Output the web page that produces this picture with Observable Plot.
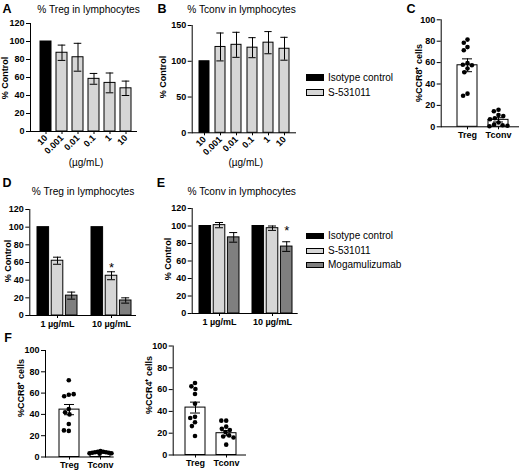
<!DOCTYPE html>
<html>
<head>
<meta charset="utf-8">
<script src="https://cdn.jsdelivr.net/npm/d3@7"></script>
<script src="https://cdn.jsdelivr.net/npm/@observablehq/plot@0.6"></script>
<style>
  body { margin: 0; background: #fff; }
  #fig { position: relative; width: 520px; height: 472px; overflow: hidden; background: #fff; }
  #fig svg { position: absolute; }
</style>
</head>
<body>
<div id="fig"></div>
<script>
// ---- Panels A and B: dose response, % of isotype control (mean ± SEM) ----
const doseLabels = ["10", "0.001", "0.01", "0.1", "1", "10"];
const doseTreatment = ["Isotype control", "S-531011", "S-531011", "S-531011", "S-531011", "S-531011"];
const tregDoseMean = [100, 87.5, 82.5, 58.5, 54, 48];
const tregDoseErr = [0, 8.5, 15.5, 6, 11, 8];
const tconvDoseMean = [100, 120, 123, 119, 126, 117.5];
const tconvDoseErr = [0, 19.5, 17.5, 14, 15.5, 16];

// ---- Panels D and E: S-531011 vs mogamulizumab at two concentrations ----
const treatments = ["Isotype control", "S-531011", "Mogamulizumab"];
const concLabels = ["1 µg/mL", "10 µg/mL"];
const tregConcMean = [[100, 62, 22.5], [100, 45, 17]];
const tregConcErr = [[0, 4, 4], [0, 4.5, 3]];
const tregConcSig = [[false, false, false], [false, true, false]];
const tconvConcMean = [[100, 101, 87], [100, 97.5, 76.5]];
const tconvConcErr = [[0, 3, 5.5], [0, 2.5, 5.5]];
const tconvConcSig = [[false, false, false], [false, false, true]];

// ---- Panels C and F: individual donors (% positive cells) ----
const cellTypes = ["Treg", "Tconv"];
const ccr8C = [
  [81.5, 78.5, 74.5, 71.5, 59.5, 58, 57.5, 54.5, 51, 31, 29],
  [16, 14.5, 11, 10, 8, 7, 4, 2, 1.5, 1, 0.5]
];
const ccr8CMean = [57.5, 6.5];
const ccr8CErr = [6, 2];
const ccr8F = [
  [72, 58.5, 57, 59, 45, 42, 40, 31, 24.5, 25],
  [5.5, 5, 5, 4.5, 4.5, 4, 4, 3.5, 3.5, 3]
];
const ccr8FMean = [44.5, 4.2];
const ccr8FErr = [4.8, 0.5];
const ccr4F = [
  [66, 63, 60.5, 56, 47, 35, 34, 30, 26.5, 17.5],
  [31.5, 31.5, 26, 24, 23, 21, 18, 17, 16, 9.5]
];
const ccr4FMean = [43.5, 20];
const ccr4FErr = [5, 2.3];

const fills = ["#000000", "#d6d6d6", "#7f7f7f"];
const FONT = "Arial, 'Liberation Sans', Helvetica, sans-serif";
const fig = document.getElementById("fig");

// Absolutely positioned HTML text, centred on (x, y) unless align is "left"
function label(txt, x, y, {size = 10, weight = "normal", rotate = 0, align = "center"} = {}) {
  const d = document.createElement("div");
  d.textContent = txt;
  d.style.cssText = `position:absolute;left:${x}px;top:${y}px;font:${weight} ${size}px ${FONT};` +
    `line-height:1;white-space:nowrap;color:#000;` +
    `transform:translate(${align === "center" ? "-50%" : "0"},-50%) rotate(${rotate}deg);`;
  fig.append(d);
}

function swatch(x, y, w, h, fill) {
  const d = document.createElement("div");
  d.style.cssText = `position:absolute;left:${x}px;top:${y}px;width:${w}px;height:${h}px;` +
    `background:${fill};border:1px solid #000;box-sizing:border-box;`;
  fig.append(d);
}

function put(svg, left, top) {
  svg.style.left = left + "px";
  svg.style.top = top + "px";
  fig.append(svg);
}

// Band scale whose bands of width bw are centred on the given pixel centres
function bandX(centers, bw, left) {
  const n = centers.length;
  const step = (centers[n - 1] - centers[0]) / (n - 1);
  const p = 1 - bw / step;
  return {range: [centers[0] - step / 2 - left, centers[n - 1] + step / 2 - left], paddingInner: p, paddingOuter: p / 2};
}

function frame(cfg) {
  return {
    width: cfg.width, height: cfg.height,
    marginTop: cfg.mT, marginRight: cfg.mR, marginBottom: cfg.mB, marginLeft: cfg.mL,
    style: {fontFamily: FONT, fontSize: "9px", fontWeight: "bold", background: "transparent", overflow: "visible", color: "#000"},
    y: {domain: [0, cfg.yMax], ticks: d3.range(0, cfg.yMax + 1, cfg.yStep), tickSize: 4, tickPadding: 2, line: true, label: null}
  };
}

// A, B: single bar per dose
function dosePlot(mean, err, cfg) {
  const rows = mean.map((v, i) => ({i, v, e: err[i], t: doseTreatment[i]}));
  const withErr = rows.filter(d => d.e > 0);
  const centers = rows.map((d, i) => cfg.c0 + i * cfg.step);
  const cap = (cfg.barW - cfg.capW) / 2;
  return Plot.plot({
    ...frame(cfg),
    x: {domain: rows.map(d => d.i), ...bandX(centers, cfg.barW, cfg.left), tickFormat: i => doseLabels[i],
        tickRotate: -45, tickSize: 3, tickPadding: 2, line: true, label: null},
    color: {domain: treatments, range: fills},
    marks: [
      Plot.barY(rows, {x: "i", y: "v", fill: "t", stroke: "#000", strokeWidth: 1}),
      Plot.ruleX(withErr, {x: "i", y1: d => d.v - d.e, y2: d => d.v + d.e, stroke: "#000"}),
      Plot.tickY(withErr, {x: "i", y: d => d.v + d.e, insetLeft: cap, insetRight: cap, stroke: "#000"}),
      Plot.tickY(withErr, {x: "i", y: d => d.v - d.e, insetLeft: cap, insetRight: cap, stroke: "#000"})
    ]
  });
}

// D, E: three treatments side by side within each concentration
function concPlot(mean, err, sig, cfg) {
  const rows = [];
  mean.forEach((grp, g) => grp.forEach((v, s) =>
    rows.push({g, s, v, e: err[g][s], sig: sig[g][s], t: treatments[s]})));
  const bw = 2 * cfg.sub + cfg.barW;
  const cap = (cfg.barW - cfg.capW) / 2;
  const marks = [];
  treatments.forEach((t, s) => {
    const part = rows.filter(d => d.s === s);
    const errs = part.filter(d => d.e > 0);
    const L = s * cfg.sub, R = (2 - s) * cfg.sub;
    marks.push(
      Plot.barY(part, {x: "g", y: "v", fill: "t", stroke: "#000", strokeWidth: 1, insetLeft: L, insetRight: R}),
      Plot.ruleX(errs, {x: "g", y1: d => d.v - d.e, y2: d => d.v + d.e, dx: (s - 1) * cfg.sub, stroke: "#000"}),
      Plot.tickY(errs, {x: "g", y: d => d.v + d.e, insetLeft: L + cap, insetRight: R + cap, stroke: "#000"}),
      Plot.tickY(errs, {x: "g", y: d => d.v - d.e, insetLeft: L + cap, insetRight: R + cap, stroke: "#000"}),
      Plot.text(part.filter(d => d.sig), {x: "g", y: d => d.v + d.e, text: () => "*", dx: (s - 1) * cfg.sub,
        dy: cfg.starDy, fontSize: 13, fontWeight: "normal", fill: "#000"})
    );
  });
  return Plot.plot({
    ...frame(cfg),
    x: {domain: concLabels.map((c, g) => g), ...bandX(cfg.centers, bw, cfg.left), tickFormat: g => concLabels[g],
        tickSize: 3, tickPadding: 2, line: true, label: null},
    color: {domain: treatments, range: fills},
    marks
  });
}

// C, F: mean ± SEM bar with individual donors swarmed on top
function donorPlot(points, mean, err, cfg) {
  const rows = cellTypes.map((c, k) => ({c, v: mean[k], e: err[k]}));
  const cap = (cfg.barW - cfg.capW) / 2;
  const mid = (cfg.mL + cfg.width - cfg.mR) / 2;
  // the dot layer is also shifted by half a band, because x is a band scale
  const half = cfg.barW / 2;
  return Plot.plot({
    ...frame(cfg),
    x: {domain: cellTypes, ...bandX(cfg.centers, cfg.barW, cfg.left), tickSize: 3, tickPadding: 2, line: true, label: null},
    marks: [
      Plot.barY(rows, {x: "c", y: "v", fill: "#fff", stroke: "#000", strokeWidth: 1}),
      ...cellTypes.map((c, k) => Plot.dot(points[k], Plot.dodgeX({anchor: "middle", padding: cfg.pad[k]},
        {y: d => d, r: 2.3, fill: "#000", stroke: "none", dx: cfg.centers[k] - cfg.left - mid - half}))),
      Plot.ruleX(rows, {x: "c", y1: d => d.v - d.e, y2: d => d.v + d.e, stroke: "#000"}),
      Plot.tickY(rows, {x: "c", y: d => d.v + d.e, insetLeft: cap, insetRight: cap, stroke: "#000"}),
      Plot.tickY(rows, {x: "c", y: d => d.v - d.e, insetLeft: cap, insetRight: cap, stroke: "#000"})
    ]
  });
}

// ---- Panel A ----
const cfgA = {left: 0, top: 0, width: 160, height: 170, mT: 23, mR: 24, mB: 39, mL: 30,
  yMax: 120, yStep: 20, c0: 44.2, step: 16.66, barW: 11.7, capW: 8.3};
put(dosePlot(tregDoseMean, tregDoseErr, cfgA), cfgA.left, cfgA.top);

// ---- Panel B ----
const cfgB = {left: 160, top: 0, width: 140, height: 170, mT: 25, mR: 5, mB: 37.7, mL: 31.7,
  yMax: 150, yStep: 50, c0: 202, step: 16.9, barW: 10.7, capW: 8};
put(dosePlot(tconvDoseMean, tconvDoseErr, cfgB), cfgB.left, cfgB.top);

// ---- Panel C ----
const cfgC = {left: 400, top: 0, width: 120, height: 150, mT: 19.3, mR: 2, mB: 23.7, mL: 40.7,
  yMax: 100, yStep: 20, centers: [467, 498], barW: 20, capW: 10, pad: [0.3, 0.3]};
put(donorPlot(ccr8C, ccr8CMean, ccr8CErr, cfgC), cfgC.left, cfgC.top);

// ---- Panel D ----
const cfgD = {left: 0, top: 170, width: 160, height: 165, mT: 39, mR: 25, mB: 20, mL: 29.3,
  yMax: 120, yStep: 20, centers: [56.85, 111.15], sub: 14.2, barW: 11.6, capW: 8, starDy: -4};
put(concPlot(tregConcMean, tregConcErr, tregConcSig, cfgD), cfgD.left, cfgD.top);

// ---- Panel E ----
const cfgE = {left: 160, top: 170, width: 145, height: 165, mT: 38, mR: 8.3, mB: 22, mL: 31.7,
  yMax: 120, yStep: 20, centers: [218.5, 271.85], sub: 14.2, barW: 11.6, capW: 8, starDy: -11};
put(concPlot(tconvConcMean, tconvConcErr, tconvConcSig, cfgE), cfgE.left, cfgE.top);

// ---- Panel F ----
const cfgF1 = {left: 0, top: 330, width: 130, height: 142, mT: 20, mR: 17.3, mB: 15.5, mL: 45,
  yMax: 100, yStep: 20, centers: [68.3, 100], barW: 20, capW: 10, pad: [0.3, -1.8]};
put(donorPlot(ccr8F, ccr8FMean, ccr8FErr, cfgF1), cfgF1.left, cfgF1.top);
const cfgF2 = {left: 130, top: 330, width: 130, height: 142, mT: 15.5, mR: 15, mB: 17.5, mL: 42.7,
  yMax: 100, yStep: 20, centers: [194.5, 225.7], barW: 20, capW: 10, pad: [0.3, 0.3]};
put(donorPlot(ccr4F, ccr4FMean, ccr4FErr, cfgF2), cfgF2.left, cfgF2.top);

// ---- Panel letters, titles and axis labels ----
const letter = {size: 12.5, weight: "bold"};
label("A", 7, 9, letter);
label("B", 162, 9, letter);
label("C", 411, 9, letter);
label("D", 7, 182.5, letter);
label("E", 161, 182.5, letter);
label("F", 8, 337.5, letter);

label("% Treg in lymphocytes", 88.5, 10, {size: 10.2});
label("% Tconv in lymphocytes", 241.5, 10, {size: 10.2});
label("% Treg in lymphocytes", 83, 192, {size: 10.2});
label("% Tconv in lymphocytes", 241.7, 192, {size: 10.2});

label("(µg/mL)", 86, 163, {size: 10});
label("(µg/mL)", 245.8, 163, {size: 10});

const yl = {size: 9, weight: "bold", rotate: -90};
label("% Control", 5, 77.5, yl);
label("% Control", 162.5, 77, yl);
label("%CCR8⁺ cells", 419, 73, yl);
label("% Control", 8, 261, yl);
label("% Control", 168, 259, yl);
label("%CCR8⁺ cells", 21, 388, yl);
label("%CCR4⁺ cells", 149, 385, yl);

// ---- Legends ----
swatch(306, 74, 18, 7, fills[0]);
swatch(306, 89, 18, 7, fills[1]);
label(treatments[0], 328, 77.5, {size: 10, align: "left"});
label(treatments[1], 328, 92.5, {size: 10, align: "left"});

treatments.forEach((t, s) => {
  swatch(306, 233 + s * 14.5, 18, 6, fills[s]);
  label(t, 328, 236 + s * 14.5, {size: 10, align: "left"});
});
</script>
</body>
</html>
